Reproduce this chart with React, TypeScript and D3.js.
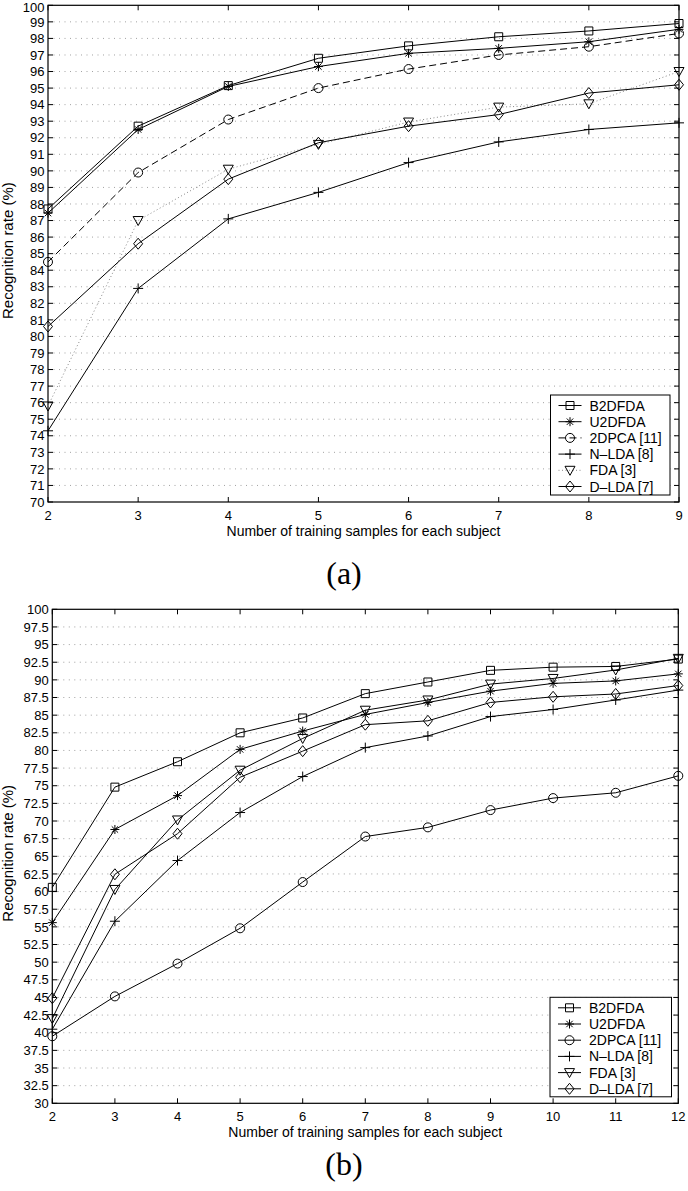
import React from "react";
import * as d3 from "d3";

// method names, in legend order
const methods = ["B2DFDA", "U2DFDA", "2DPCA [11]", "N\u2013LDA [8]", "FDA [3]", "D\u2013LDA [7]"];
const markers = ["square", "asterisk", "circle", "plus", "triangle", "diamond"];

// (a) training samples 2..9
const samplesA = [2, 3, 4, 5, 6, 7, 8, 9];
const b2dfdaA = [87.7, 92.7, 95.15, 96.8, 97.55, 98.1, 98.45, 98.9];
const u2dfdaA = [87.45, 92.5, 95.1, 96.3, 97.1, 97.4, 97.8, 98.55];
const pcaA = [84.5, 89.9, 93.1, 95.0, 96.15, 97.0, 97.5, 98.3];
const nldaA = [74.3, 82.9, 87.1, 88.7, 90.5, 91.75, 92.5, 92.9];
const fdaA = [75.8, 87.0, 90.1, 91.6, 92.95, 93.85, 94.05, 96.0];
const dldaA = [80.6, 85.6, 89.5, 91.7, 92.7, 93.4, 94.7, 95.2];
const yTicksA = d3.range(70, 101, 1);

// (b) training samples 2..12
const samplesB = [2, 3, 4, 5, 6, 7, 8, 9, 10, 11, 12];
const b2dfdaB = [60.6, 74.8, 78.4, 82.5, 84.6, 88.05, 89.7, 91.35, 91.8, 91.9, 92.95];
const u2dfdaB = [55.6, 68.8, 73.6, 80.15, 82.75, 85.1, 86.8, 88.4, 89.5, 89.85, 90.85];
const pcaB = [39.5, 45.15, 49.8, 54.8, 61.35, 67.8, 69.1, 71.55, 73.25, 74.0, 76.4];
const nldaB = [40.5, 55.8, 64.4, 71.2, 76.3, 80.4, 82.05, 84.8, 85.8, 87.15, 88.55];
const fdaB = [42.0, 60.3, 70.15, 77.2, 81.7, 85.7, 87.15, 89.4, 90.2, 91.4, 93.05];
const dldaB = [44.9, 62.45, 68.2, 76.2, 79.9, 83.65, 84.2, 86.8, 87.6, 88.0, 89.2];
const yTicksB = d3.range(30, 100.1, 2.5);

const SANS = "'Liberation Sans', Arial, Helvetica, sans-serif";
const SERIF = "'Liberation Serif', 'Times New Roman', serif";

const markerPath = (kind: string) => {
  switch (kind) {
    case "square":
      return "M-4,-4h8v8h-8z";
    case "asterisk":
      return "M-4.5,0H4.5M0,-4.5V4.5M-3.2,-3.2L3.2,3.2M-3.2,3.2L3.2,-3.2";
    case "circle":
      return "M4.5,0A4.5,4.5 0 1,1 -4.5,0A4.5,4.5 0 1,1 4.5,0Z";
    case "plus":
      return "M-5,0H5M0,-5V5";
    case "triangle":
      return "M-5,-4L5,-4L0,5Z";
    default:
      return "M0,-5.5L4.5,0L0,5.5L-4.5,0Z";
  }
};

interface ISeries {
  name: string;
  values: number[];
  marker: string;
  dash?: string;
  color?: string;
}

interface IPanel {
  left: number;
  right: number;
  top: number;
  bottom: number;
  xs: number[];
  yTicks: number[];
  series: ISeries[];
  legend: { x: number; y: number; w: number; h: number };
  caption: string;
  captionY: number;
}

const Panel: React.FC<IPanel> = ({ left, right, top, bottom, xs, yTicks, series, legend, caption, captionY }) => {
  const x = d3.scaleLinear().domain([xs[0], xs[xs.length - 1]]).range([left, right]);
  const y = d3.scaleLinear().domain([yTicks[0], yTicks[yTicks.length - 1]]).range([bottom, top]);
  const line = d3
    .line<number>()
    .x((_, i) => x(xs[i]))
    .y((d) => y(d));
  const tick = 5;

  return (
    <g>
      {/* horizontal dotted grid */}
      {yTicks.slice(1, -1).map((t) => (
        <line key={"g" + t} x1={left} x2={right} y1={y(t)} y2={y(t)} stroke="#8a8a8a" strokeWidth={0.8} strokeDasharray="1,4.5" />
      ))}
      {/* inward ticks */}
      {xs.map((t) => (
        <g key={"xt" + t}>
          <line x1={x(t)} x2={x(t)} y1={bottom} y2={bottom - tick} stroke="#000" />
          <line x1={x(t)} x2={x(t)} y1={top} y2={top + tick} stroke="#000" />
          <text x={x(t)} y={bottom + 17.5} textAnchor="middle" fontFamily={SANS} fontSize={13}>
            {t}
          </text>
        </g>
      ))}
      {yTicks.map((t) => (
        <g key={"yt" + t}>
          <line x1={left} x2={left + tick} y1={y(t)} y2={y(t)} stroke="#000" />
          <line x1={right} x2={right - tick} y1={y(t)} y2={y(t)} stroke="#000" />
          {/* keep the topmost label inside the page */}
          <text x={left - 3.5} y={Math.max(y(t), 7)} dy="0.36em" textAnchor="end" fontFamily={SANS} fontSize={13}>
            {t}
          </text>
        </g>
      ))}
      <rect x={left} y={top} width={right - left} height={bottom - top} fill="none" stroke="#000" strokeWidth={1.2} />

      {/* series */}
      {series.map((s) => (
        <g key={s.name}>
          <path d={line(s.values) || ""} fill="none" stroke={s.color || "#000"} strokeWidth={1} strokeDasharray={s.dash} />
          {s.values.map((v, i) => (
            <path key={i} transform={`translate(${x(xs[i])},${y(v)})`} d={markerPath(s.marker)} fill="none" stroke="#000" strokeWidth={1} />
          ))}
        </g>
      ))}

      {/* legend */}
      <rect x={legend.x} y={legend.y} width={legend.w} height={legend.h} fill="#fff" stroke="#000" strokeWidth={1} />
      {series.map((s, i) => {
        const ly = legend.y + 10.5 + i * 16.2;
        return (
          <g key={"l" + s.name}>
            <line x1={legend.x + 8} x2={legend.x + 31} y1={ly} y2={ly} stroke={s.color || "#000"} strokeDasharray={s.dash} />
            <path transform={`translate(${legend.x + 19.5},${ly})`} d={markerPath(s.marker)} fill="none" stroke="#000" />
            <text x={legend.x + 39} y={ly} dy="0.36em" fontFamily={SANS} fontSize={14}>
              {s.name}
            </text>
          </g>
        );
      })}

      {/* axis titles */}
      <text x={(left + right) / 2} y={bottom + 34} textAnchor="middle" fontFamily={SANS} fontSize={14}>
        Number of training samples for each subject
      </text>
      <text transform={`translate(12.5,${(top + bottom) / 2 - 3}) rotate(-90)`} textAnchor="middle" fontFamily={SANS} fontSize={15}>
        Recognition rate (%)
      </text>
      <text x={344} y={captionY} textAnchor="middle" fontFamily={SERIF} fontSize={32}>
        {caption}
      </text>
    </g>
  );
};

const build = (vals: number[][], dashes: (string | undefined)[], colors: (string | undefined)[]): ISeries[] =>
  methods.map((name, i) => ({ name, values: vals[i], marker: markers[i], dash: dashes[i], color: colors[i] }));

const App: React.FC = () => {
  const seriesA = build(
    [b2dfdaA, u2dfdaA, pcaA, nldaA, fdaA, dldaA],
    [undefined, undefined, "7,4", undefined, "1,2.5", undefined],
    [undefined, undefined, undefined, undefined, "#888", undefined]
  );
  const seriesB = build([b2dfdaB, u2dfdaB, pcaB, nldaB, fdaB, dldaB], [], []);

  return (
    <svg width={688} height={1191} style={{ position: "absolute", left: 0, top: 0, background: "#fff" }}>
      <rect width={688} height={1191} fill="#fff" />
      <Panel
        left={48}
        right={679}
        top={5.3}
        bottom={502}
        xs={samplesA}
        yTicks={yTicksA}
        series={seriesA}
        legend={{ x: 550.5, y: 395, w: 119.5, h: 100 }}
        caption="(a)"
        captionY={584}
      />
      <Panel
        left={52.3}
        right={678.3}
        top={609.3}
        bottom={1103.3}
        xs={samplesB}
        yTicks={yTicksB}
        series={seriesB}
        legend={{ x: 550, y: 997.3, w: 121.5, h: 99.5 }}
        caption="(b)"
        captionY={1175}
      />
    </svg>
  );
};

export default App;
